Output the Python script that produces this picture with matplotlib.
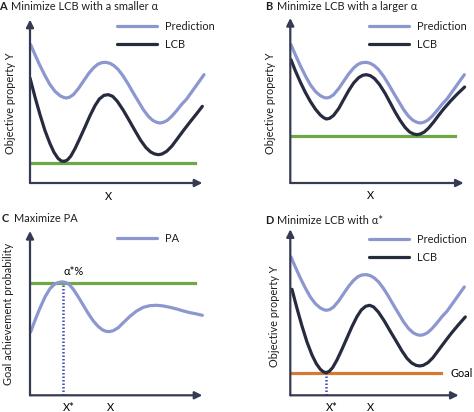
import matplotlib
matplotlib.use("Agg")
import matplotlib.pyplot as plt

plt.rcParams["font.family"] = ["Lato", "DejaVu Sans"]

W, H = 474, 412
FS = 7.9

# ── colours ─────────────────────────────────────────────────────────
PRED_C = "#8c97cf"
LCB_C = "#272b3f"
GREEN_C = "#6ea846"
ORANGE_C = "#d47a35"
AXIS_C = "#363a52"
DOT_C = "#3f4fb5"
TEXT_C = "#1e1e1e"

# ── data (schematic units) ──────────────────────────────────────────
pred_x = [2, 15, 30, 45, 60, 75, 90, 100, 108, 118, 130, 145, 160, 175, 190,
          203, 215, 228, 240, 252, 265, 280, 295, 310, 325, 340, 355, 368,
          380, 390, 400, 412, 425, 440, 455, 470, 485, 500, 522]
pred_y = [415, 385, 352, 322, 295, 275, 262, 257, 255, 257, 265, 283, 305,
          327, 345, 356, 361, 362, 359, 352, 340, 320, 296, 270, 245, 220,
          200, 188, 182, 180, 182, 188, 200, 217, 236, 252, 273, 294, 325]

lcb_small_x = [0, 15, 30, 45, 60, 72, 84, 94, 103, 112, 122, 135, 150, 165,
               180, 195, 208, 222, 235, 248, 262, 280, 298, 315, 332, 348,
               362, 374, 385, 396, 410, 425, 440, 460, 480, 500, 517]
lcb_small_y = [315, 258, 205, 157, 118, 92, 74, 66, 65, 69, 80, 103, 135,
               168, 202, 232, 252, 263, 265, 260, 245, 218, 187, 157, 128,
               106, 93, 87, 85, 87, 95, 110, 130, 157, 183, 208, 230]

lcb_large_x = [2, 15, 30, 45, 60, 75, 90, 100, 108, 118, 130, 145, 160, 175,
               190, 205, 217, 228, 240, 253, 268, 285, 300, 315, 330, 345,
               358, 370, 380, 390, 402, 415, 430, 445, 460, 480, 500, 523]
lcb_large_y = [370, 337, 303, 272, 245, 222, 204, 196, 192, 194, 203, 223,
               250, 277, 300, 316, 323, 325, 322, 313, 295, 268, 240, 212,
               187, 166, 153, 147, 145, 147, 153, 165, 183, 203, 222, 245,
               266, 288]

lcb_star_x = [5, 20, 35, 50, 65, 78, 90, 100, 108, 117, 127, 140, 155, 170,
              185, 200, 213, 226, 238, 250, 264, 282, 300, 318, 335, 350,
              364, 377, 388, 399, 413, 428, 443, 463, 483, 503, 525]
lcb_star_y = [318, 261, 208, 160, 121, 95, 78, 70, 68, 72, 83, 106, 138, 172,
              206, 236, 256, 267, 270, 265, 250, 223, 192, 162, 133, 111, 97,
              90, 88, 90, 98, 113, 133, 160, 186, 210, 235]

pa_x = [2, 15, 30, 45, 60, 72, 84, 93, 100, 108, 118, 130, 145, 160, 175,
        190, 205, 218, 228, 238, 250, 265, 280, 300, 320, 340, 360, 380, 400,
        420, 440, 460, 480, 500, 517]
pa_y = [190, 225, 262, 295, 320, 332, 338, 340, 340, 338, 332, 318, 295, 270,
        245, 223, 206, 196, 192, 191, 194, 203, 218, 237, 253, 264, 269, 270,
        268, 264, 259, 253, 248, 244, 240]

goal_a, goal_b, goal_c, goal_d = 61, 142, 338, 66
x_star_c, x_star_d = 100, 108


def px(x, y):
    return x / W, 1 - y / H


def make_axes(fig, ox, oy, xtip, ytip):
    # ox, oy: origin in image pixels; units are 3 per pixel
    w, h = 530 / 3, 500 / 3
    ax = fig.add_axes([ox / W, (H - oy) / H, w / W, h / H])
    ax.set_xlim(0, 530)
    ax.set_ylim(0, 500)
    ax.axis("off")
    arrow = dict(arrowstyle="-|>", color=AXIS_C, lw=1.6, mutation_scale=11,
                 shrinkA=0, shrinkB=0)
    ax.annotate("", xy=(xtip, 0), xytext=(0, 0), arrowprops=arrow,
                annotation_clip=False)
    ax.annotate("", xy=(0, ytip), xytext=(0, 0), arrowprops=arrow,
                annotation_clip=False)
    return ax


def title(fig, x, y, letter, text):
    fig.text(*px(x, y), letter, fontsize=FS, fontweight="bold",
             color=TEXT_C, va="center", ha="left")
    fig.text(*px(x + 12, y), text, fontsize=FS, color=TEXT_C,
             va="center", ha="left")


def legend(ax, fig, x, y, handles):
    ax.legend(handles=handles, loc="upper left",
              bbox_to_anchor=px(x, y), bbox_transform=fig.transFigure,
              frameon=False, fontsize=FS, handlelength=3.65,
              handletextpad=0.75, labelspacing=0.62, borderpad=0,
              borderaxespad=0, labelcolor=TEXT_C)


def ylabel(fig, x, y, text):
    fig.text(*px(x, y), text, rotation=90, fontsize=FS, ha="center",
             va="center", color=TEXT_C)


fig = plt.figure(figsize=(W / 100, H / 100), dpi=100)
lw = 2.3
curve = dict(lw=lw, solid_capstyle="round", solid_joinstyle="round")
dots = dict(color=DOT_C, lw=1.8, linestyle=(0, (0.6, 0.8)))

# ── A ───────────────────────────────────────────────────────────────
ax = make_axes(fig, 30, 183, 517, 490)
ax.plot([0, 495], [goal_a, goal_a], color=GREEN_C, lw=lw)
p1, = ax.plot(pred_x, pred_y, color=PRED_C, label="Prediction", **curve)
l1, = ax.plot(lcb_small_x, lcb_small_y, color=LCB_C, label="LCB", **curve)
legend(ax, fig, 117, 21, [p1, l1])
ax.text(235, -42, "X", fontsize=FS, ha="center", va="center")
title(fig, -1, 7, "A", "Minimize LCB with a smaller α")
ylabel(fig, 11, 103, "Objective property Y")

# ── B ───────────────────────────────────────────────────────────────
ax = make_axes(fig, 290.3, 183, 520, 495)
ax.plot([0, 495], [goal_b, goal_b], color=GREEN_C, lw=lw)
p1, = ax.plot(pred_x, pred_y, color=PRED_C, label="Prediction", **curve)
l1, = ax.plot(lcb_large_x, lcb_large_y, color=LCB_C, label="LCB", **curve)
legend(ax, fig, 369, 21, [p1, l1])
ax.text(240, -38, "X", fontsize=FS, ha="center", va="center")
title(fig, 265, 7, "B", "Minimize LCB with a larger α")
ylabel(fig, 270, 103, "Objective property Y")

# ── C ───────────────────────────────────────────────────────────────
ax = make_axes(fig, 30, 395.3, 517, 493)
ax.plot([0, 495], [goal_c, goal_c], color=GREEN_C, lw=lw)
ax.plot([x_star_c, x_star_c], [0, goal_c], **dots)
p1, = ax.plot(pa_x, pa_y, color=PRED_C, label="PA", **curve)
legend(ax, fig, 117, 233, [p1])
ax.text(130, 370, "α*%", fontsize=FS, ha="center", va="center")
ax.text(115, -37, "X*", fontsize=FS, ha="center", va="center")
ax.text(240, -37, "X", fontsize=FS, ha="center", va="center")
title(fig, 2, 219, "C", "Maximize PA")
ylabel(fig, 9, 314, "Goal achievement probability")

# ── D ───────────────────────────────────────────────────────────────
ax = make_axes(fig, 290.3, 395.3, 505, 498)
ax.plot([0, 452], [goal_d, goal_d], color=ORANGE_C, lw=lw)
ax.plot([x_star_d, x_star_d], [0, goal_d], **dots)
p1, = ax.plot(pred_x, pred_y, color=PRED_C, label="Prediction", **curve)
l1, = ax.plot(lcb_star_x, lcb_star_y, color=LCB_C, label="LCB", **curve)
legend(ax, fig, 369, 234, [p1, l1])
ax.text(480, goal_d, "Goal", fontsize=FS, ha="left", va="center",
        clip_on=False)
ax.text(125, -37, "X*", fontsize=FS, ha="center", va="center")
ax.text(240, -37, "X", fontsize=FS, ha="center", va="center")
title(fig, 265, 220, "D", "Minimize LCB with α*")
ylabel(fig, 274, 316, "Objective property Y")

fig.savefig("out.png", dpi=100, facecolor="white")
